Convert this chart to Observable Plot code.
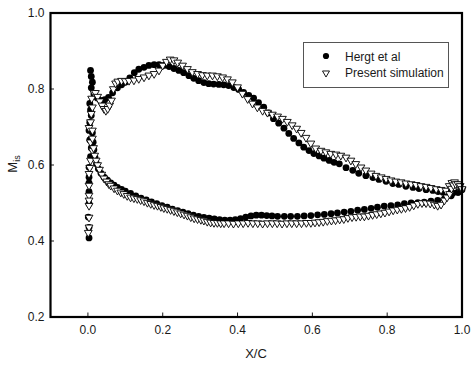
<!DOCTYPE html>
<html><head><meta charset="utf-8">
<script src="https://cdn.jsdelivr.net/npm/d3@7"></script>
<script src="https://cdn.jsdelivr.net/npm/@observablehq/plot@0.6"></script>
<style>body{margin:0;background:#fff}#chart{width:474px;height:365px}</style>
</head><body><div id="chart"></div>
<script>
const xTicks = [0, 0.2, 0.4, 0.6, 0.8, 1.0];
const yTicks = [0.2, 0.4, 0.6, 0.8, 1.0];
const seriesNames = ["Hergt et al", "Present simulation"];

// Hergt et al (filled circles)
const hergtLeadX = [0.007,0.009,0.012,0.009,0.005,0.007,0.009,0.005,0.003,0.005,0.009,0.007,0.003,0.003,0.003,0.003,0.003,0.001,0.003,0.003];
const hergtLeadM = [0.849,0.833,0.818,0.803,0.762,0.745,0.730,0.712,0.691,0.666,0.645,0.622,0.594,0.568,0.553,0.530,0.498,0.463,0.436,0.408];
const hergtUpperX = [0.016,0.025,0.034,0.045,0.055,0.066,0.079,0.09,0.1,0.112,0.124,0.136,0.15,0.163,0.177,0.19,0.203,0.217,0.23,0.243,0.256,0.27,0.283,0.296,0.31,0.323,0.336,0.35,0.363,0.376,0.39,0.403,0.416,0.43,0.443,0.456,0.47,0.483,0.496,0.51,0.524,0.537,0.55,0.564,0.577,0.591,0.604,0.618,0.631,0.645,0.658,0.672,0.69,0.708,0.724,0.743,0.762,0.778,0.797,0.815,0.831,0.85,0.869,0.885,0.904,0.922,0.936,0.949,0.963,0.976,0.99];
const hergtUpperM = [0.787,0.776,0.77,0.772,0.778,0.79,0.803,0.811,0.818,0.829,0.843,0.852,0.857,0.862,0.864,0.864,0.862,0.859,0.854,0.849,0.843,0.835,0.828,0.822,0.817,0.814,0.813,0.812,0.811,0.809,0.804,0.799,0.791,0.783,0.776,0.764,0.752,0.737,0.722,0.71,0.697,0.683,0.670,0.658,0.647,0.638,0.630,0.624,0.618,0.612,0.607,0.603,0.593,0.586,0.578,0.572,0.567,0.562,0.557,0.551,0.549,0.544,0.541,0.538,0.535,0.533,0.530,0.528,0.527,0.526,0.528];
const hergtLowerX = [0.012,0.014,0.016,0.019,0.023,0.028,0.035,0.043,0.052,0.061,0.07,0.079,0.09,0.1,0.114,0.128,0.142,0.156,0.17,0.184,0.198,0.212,0.226,0.24,0.254,0.268,0.282,0.296,0.31,0.324,0.338,0.352,0.366,0.38,0.394,0.408,0.422,0.436,0.45,0.464,0.478,0.492,0.507,0.525,0.542,0.56,0.578,0.596,0.614,0.632,0.65,0.667,0.685,0.703,0.721,0.739,0.757,0.774,0.792,0.81,0.828,0.846,0.864,0.882,0.899,0.917,0.935,0.953,0.971,0.989,1.0];
const hergtLowerM = [0.685,0.66,0.64,0.62,0.603,0.59,0.578,0.568,0.56,0.553,0.547,0.541,0.536,0.531,0.525,0.519,0.513,0.508,0.503,0.498,0.493,0.489,0.484,0.48,0.476,0.472,0.468,0.465,0.462,0.46,0.458,0.456,0.455,0.455,0.456,0.459,0.463,0.466,0.468,0.468,0.467,0.466,0.465,0.465,0.465,0.465,0.466,0.467,0.469,0.47,0.472,0.474,0.476,0.478,0.481,0.483,0.486,0.489,0.492,0.493,0.495,0.498,0.5,0.501,0.502,0.505,0.507,0.511,0.519,0.528,0.535];

// Present simulation (open down-triangles)
const simLeadX = [0.016,0.01,0.012,0.009,0.007,0.003,0.012,0.007,0.012,0.007,0.005,0.003,0.003,0.003,0.003,0.003,0.003,0.003,0.001];
const simLeadM = [0.79,0.775,0.752,0.735,0.713,0.698,0.691,0.66,0.638,0.612,0.593,0.577,0.546,0.52,0.507,0.493,0.462,0.436,0.422];
const simUpperX = [0.02,0.026,0.032,0.038,0.043,0.048,0.053,0.058,0.063,0.068,0.074,0.08,0.09,0.1,0.11,0.123,0.136,0.15,0.163,0.177,0.19,0.2,0.21,0.22,0.23,0.24,0.253,0.266,0.279,0.293,0.306,0.319,0.333,0.346,0.36,0.373,0.386,0.4,0.413,0.427,0.44,0.453,0.467,0.48,0.493,0.507,0.52,0.533,0.546,0.558,0.57,0.583,0.596,0.609,0.623,0.636,0.649,0.663,0.676,0.69,0.703,0.716,0.73,0.743,0.757,0.77,0.784,0.797,0.81,0.823,0.837,0.85,0.864,0.877,0.89,0.904,0.917,0.931,0.944,0.957,0.966,0.973,0.98,0.989,1.0];
const simUpperM = [0.79,0.78,0.768,0.757,0.748,0.743,0.748,0.757,0.77,0.8,0.815,0.82,0.822,0.821,0.822,0.823,0.827,0.831,0.836,0.84,0.849,0.862,0.872,0.878,0.876,0.87,0.862,0.853,0.845,0.84,0.837,0.836,0.836,0.834,0.831,0.826,0.818,0.805,0.788,0.774,0.762,0.752,0.743,0.738,0.733,0.728,0.722,0.714,0.705,0.696,0.685,0.672,0.657,0.644,0.638,0.634,0.63,0.628,0.625,0.62,0.612,0.603,0.594,0.586,0.578,0.572,0.568,0.564,0.56,0.557,0.555,0.552,0.55,0.548,0.545,0.543,0.54,0.537,0.535,0.533,0.545,0.553,0.555,0.545,0.535];
const simLowerX = [0.012,0.015,0.018,0.022,0.026,0.031,0.037,0.043,0.05,0.056,0.061,0.07,0.079,0.088,0.096,0.105,0.114,0.123,0.132,0.141,0.15,0.159,0.168,0.177,0.186,0.195,0.203,0.212,0.221,0.23,0.239,0.248,0.257,0.266,0.275,0.284,0.293,0.302,0.31,0.319,0.328,0.337,0.346,0.355,0.364,0.376,0.389,0.402,0.415,0.428,0.441,0.454,0.467,0.48,0.493,0.506,0.519,0.532,0.545,0.558,0.571,0.584,0.596,0.607,0.618,0.629,0.64,0.651,0.662,0.673,0.684,0.695,0.706,0.717,0.728,0.739,0.75,0.761,0.772,0.783,0.794,0.805,0.816,0.827,0.838,0.849,0.86,0.871,0.882,0.893,0.904,0.915,0.926,0.935,0.944,0.953,0.96,0.967,0.972,0.977,0.983,0.989,0.995,1.0];
const simLowerM = [0.67,0.645,0.625,0.612,0.6,0.588,0.575,0.565,0.557,0.55,0.546,0.539,0.533,0.528,0.524,0.519,0.515,0.513,0.511,0.508,0.505,0.501,0.498,0.495,0.493,0.49,0.487,0.485,0.482,0.479,0.476,0.473,0.47,0.467,0.463,0.46,0.458,0.456,0.454,0.451,0.449,0.448,0.448,0.447,0.447,0.447,0.446,0.447,0.447,0.448,0.447,0.447,0.446,0.447,0.447,0.447,0.446,0.447,0.447,0.447,0.447,0.448,0.448,0.449,0.45,0.451,0.453,0.454,0.455,0.457,0.458,0.461,0.463,0.464,0.465,0.465,0.467,0.469,0.471,0.473,0.475,0.478,0.481,0.483,0.485,0.487,0.49,0.494,0.498,0.5,0.5,0.499,0.496,0.493,0.496,0.507,0.515,0.524,0.538,0.547,0.55,0.55,0.545,0.537];

const pairs = (xs, ms) => xs.map((x, i) => ({x, m: ms[i]}));
const hergt = [...pairs(hergtLeadX, hergtLeadM), ...pairs(hergtUpperX, hergtUpperM), ...pairs(hergtLowerX, hergtLowerM)];
const sim = [...pairs(simLeadX, simLeadM), ...pairs(simUpperX, simUpperM), ...pairs(simLowerX, simLowerM)];

const fmt = d3.format(".1f");
const plot = Plot.plot({
  width: 474, height: 365,
  marginLeft: 50, marginRight: 12.5, marginTop: 12.5, marginBottom: 48.5,
  x: {domain: [-0.1, 1.0]},
  y: {domain: [0.2, 1.0]},
  style: {fontFamily: "'Liberation Sans', Arial, sans-serif", fontSize: "12px", color: "#1a1a1a", background: "#fff", overflow: "visible"},
  marks: [
    Plot.axisX({ticks: xTicks, tickSize: -4, tickPadding: 12.5, tickFormat: fmt, label: null, strokeWidth: 1}),
    Plot.axisY({ticks: yTicks, tickSize: -4, tickPadding: 10, tickFormat: fmt, label: null, strokeWidth: 1}),
    Plot.dot(hergt, {x: "x", y: "m", r: 3.4, fill: "black", stroke: "none"}),
    Plot.dot(sim, {x: "x", y: "m", r: 2.9, symbol: "triangle", rotate: 180, fill: "white", stroke: "black", strokeWidth: 0.9}),
    Plot.frame({stroke: "black", strokeWidth: 2.2})
  ]
});
document.getElementById("chart").appendChild(plot);

const svg = d3.select(plot);
const font = "'Liberation Sans', Arial, sans-serif";
// axis titles
svg.append("text").attr("x", 256).attr("y", 358).attr("text-anchor", "middle")
  .attr("font-family", font).attr("font-size", 13).attr("fill", "#1a1a1a").text("X/C");
const yt = svg.append("text").attr("transform", "translate(16.5,164) rotate(-90)").attr("text-anchor", "middle")
  .attr("font-family", font).attr("font-size", 13).attr("fill", "#1a1a1a");
yt.append("tspan").text("M");
yt.append("tspan").attr("font-size", 9).attr("dy", 3).text("is");

// legend
const lg = svg.append("g").attr("font-family", font).attr("font-size", 12).attr("fill", "#1a1a1a").attr("text-anchor", "start");
lg.append("rect").attr("x", 303.5).attr("y", 42.5).attr("width", 145).attr("height", 45)
  .attr("fill", "white").attr("stroke", "#555").attr("stroke-width", 1);
lg.append("circle").attr("cx", 326).attr("cy", 56).attr("r", 3.1).attr("fill", "black");
lg.append("path").attr("d", d3.symbol(d3.symbolTriangle, Math.PI * 2.6 * 2.6)()).attr("transform", "translate(326,73) rotate(180)")
  .attr("fill", "white").attr("stroke", "black").attr("stroke-width", 0.9);
lg.append("text").attr("x", 345).attr("y", 60.5).attr("text-anchor", "start").text(seriesNames[0]);
lg.append("text").attr("x", 345).attr("y", 77).attr("text-anchor", "start").text(seriesNames[1]);
</script>
</body></html>
